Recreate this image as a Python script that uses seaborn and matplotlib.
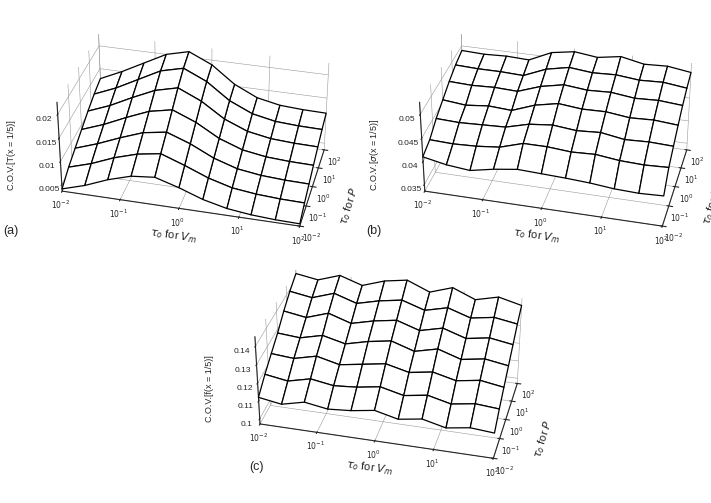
import numpy as np
import matplotlib.pyplot as plt
import seaborn as sns

sns.set_style("white")
plt.rcParams['font.family'] = ['Liberation Sans', 'DejaVu Sans']

# log10 of tau_o for V_m (columns) and for P (rows)
log_vm = [-2.0, -1.6, -1.2, -0.8, -0.4, 0.0, 0.4, 0.8, 1.2, 1.6, 2.0]
log_p = [-2.0, -1.33, -0.67, 0.0, 0.67, 1.33, 2.0]

cov_a = [
    [0.0040, 0.0055, 0.0075, 0.0090, 0.0095, 0.0080, 0.0062, 0.0050, 0.0044, 0.0041, 0.0040],
    [0.0060, 0.0075, 0.0095, 0.0110, 0.0118, 0.0100, 0.0080, 0.0066, 0.0060, 0.0057, 0.0056],
    [0.0075, 0.0092, 0.0112, 0.0130, 0.0138, 0.0120, 0.0096, 0.0080, 0.0073, 0.0070, 0.0069],
    [0.0090, 0.0108, 0.0130, 0.0150, 0.0160, 0.0140, 0.0112, 0.0094, 0.0086, 0.0083, 0.0082],
    [0.0105, 0.0124, 0.0148, 0.0170, 0.0182, 0.0160, 0.0128, 0.0108, 0.0099, 0.0096, 0.0095],
    [0.0118, 0.0138, 0.0163, 0.0188, 0.0200, 0.0178, 0.0143, 0.0121, 0.0111, 0.0108, 0.0107],
    [0.0128, 0.0150, 0.0175, 0.0200, 0.0212, 0.0190, 0.0154, 0.0131, 0.0121, 0.0118, 0.0117],
]
cov_b = [
    [0.0410, 0.0400, 0.0395, 0.0405, 0.0412, 0.0410, 0.0408, 0.0405, 0.0400, 0.0398, 0.0400],
    [0.0420, 0.0418, 0.0420, 0.0425, 0.0440, 0.0440, 0.0436, 0.0438, 0.0432, 0.0430, 0.0432],
    [0.0440, 0.0438, 0.0440, 0.0442, 0.0455, 0.0460, 0.0455, 0.0458, 0.0450, 0.0452, 0.0450],
    [0.0455, 0.0450, 0.0455, 0.0452, 0.0470, 0.0480, 0.0475, 0.0476, 0.0470, 0.0472, 0.0468],
    [0.0470, 0.0468, 0.0470, 0.0468, 0.0485, 0.0495, 0.0490, 0.0492, 0.0486, 0.0488, 0.0484],
    [0.0482, 0.0480, 0.0480, 0.0478, 0.0498, 0.0508, 0.0503, 0.0505, 0.0500, 0.0502, 0.0496],
    [0.0490, 0.0488, 0.0490, 0.0488, 0.0510, 0.0518, 0.0512, 0.0520, 0.0510, 0.0512, 0.0505],
]
cov_c = [
    [0.112, 0.110, 0.113, 0.111, 0.112, 0.114, 0.111, 0.113, 0.110, 0.112, 0.111],
    [0.118, 0.116, 0.119, 0.117, 0.118, 0.120, 0.117, 0.119, 0.116, 0.118, 0.117],
    [0.123, 0.122, 0.125, 0.122, 0.124, 0.126, 0.123, 0.125, 0.122, 0.124, 0.122],
    [0.128, 0.127, 0.130, 0.127, 0.130, 0.132, 0.128, 0.131, 0.127, 0.129, 0.127],
    [0.134, 0.132, 0.136, 0.132, 0.135, 0.137, 0.133, 0.136, 0.132, 0.134, 0.132],
    [0.139, 0.137, 0.141, 0.137, 0.140, 0.142, 0.138, 0.141, 0.137, 0.139, 0.137],
    [0.143, 0.141, 0.145, 0.141, 0.145, 0.147, 0.142, 0.146, 0.141, 0.144, 0.141],
]

zticks_a = [0.005, 0.01, 0.015, 0.02]
zticks_b = [0.035, 0.04, 0.045, 0.05]
zticks_c = [0.1, 0.11, 0.12, 0.13, 0.14]
log_ticks = [-2, -1, 0, 1, 2]
tick_labels = ['$10^{-2}$', '$10^{-1}$', '$10^{0}$', '$10^{1}$', '$10^{2}$']

fig = plt.figure(figsize=(7.11, 5.03), dpi=100)


def draw(rect, z, zticks, zlabel, tag, tagpos):
    ax = fig.add_axes(rect, projection='3d')
    ax.set_facecolor('none')
    X, Y = np.meshgrid(log_vm, log_p)
    ax.plot_surface(X, Y, np.array(z), color='white', edgecolor='black',
                    linewidth=0.9, shade=False, antialiased=True)
    ax.view_init(elev=33, azim=-76)
    ax.set_box_aspect((2.3, 1.3, 1.0), zoom=1.02)
    ax.set_xlim(-2, 2)
    ax.set_ylim(-2, 2)
    step = zticks[1] - zticks[0]
    ax.set_zlim(zticks[0] - step * 0.3, zticks[-1] + step * 0.5)
    ax.set_xticks(log_ticks)
    ax.set_xticklabels(tick_labels, fontsize=5.5)
    ax.set_yticks(log_ticks)
    ax.set_yticklabels(tick_labels, fontsize=5.5)
    ax.set_zticks(zticks)
    ax.set_zticklabels([f'{t:g}' for t in zticks], fontsize=6)
    ax.zaxis.set_ticks_position('lower')
    ax.zaxis.set_label_position('lower')
    ax.zaxis.set_rotate_label(False)
    ax.set_xlabel(r'$\tau_o$ for $V_m$', fontsize=8, labelpad=-4)
    ax.set_ylabel(r'$\tau_o$ for $P$', fontsize=8, labelpad=-4)
    ax.set_zlabel(zlabel, fontsize=6.5, labelpad=-3, rotation=90)
    ax.tick_params(pad=-3)
    for axis in (ax.xaxis, ax.yaxis, ax.zaxis):
        axis.set_pane_color((1, 1, 1, 0))
        axis._axinfo['grid']['color'] = (0.6, 0.6, 0.6, 1)
        axis._axinfo['grid']['linewidth'] = 0.4
    fig.text(tagpos[0], tagpos[1], tag, fontsize=9)
    return ax


draw([0.045, 0.46, 0.45, 0.56], cov_a, zticks_a, 'C.O.V.[T(x = 1/5)]', '(a)', (0.005, 0.535))
draw([0.56, 0.46, 0.44, 0.56], cov_b, zticks_b, r'C.O.V.[$\sigma$(x = 1/5)]', '(b)', (0.515, 0.535))
draw([0.27, 0.0, 0.55, 0.55], cov_c, zticks_c, 'C.O.V.[f(x = 1/5)]', '(c)', (0.35, 0.065))

fig.savefig('out.png', dpi=100)
